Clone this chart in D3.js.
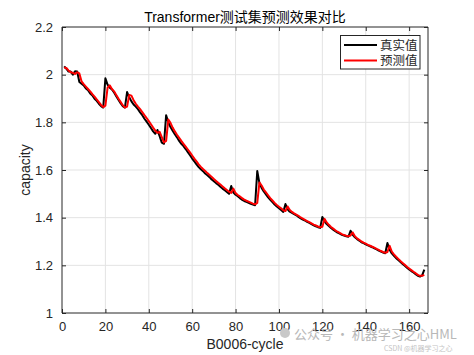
<!DOCTYPE html>
<html><head><meta charset="utf-8">
<script src="https://cdn.jsdelivr.net/npm/d3@7"></script>
<style>body{margin:0;background:#fff}svg{display:block}</style>
</head><body><svg id="c" width="474" height="355"></svg>
<script>
const xTicks = [0,20,40,60,80,100,120,140,160];
const yTicks = [1,1.2,1.4,1.6,1.8,2,2.2];
const actual = [2.035,2.025,2.013,2.013,2.000,2.014,2.013,1.969,1.962,1.955,1.942,1.935,1.921,1.913,1.899,1.890,1.878,1.868,1.862,1.985,
1.958,1.945,1.938,1.925,1.910,1.895,1.880,1.868,1.862,1.927,1.905,1.888,1.875,1.866,1.855,1.842,1.830,1.815,1.803,1.790,
1.776,1.762,1.752,1.768,1.742,1.715,1.710,1.830,1.800,1.780,1.765,1.750,1.737,1.722,1.710,1.700,1.688,1.675,1.662,1.648,
1.636,1.624,1.612,1.603,1.595,1.585,1.578,1.570,1.560,1.553,1.545,1.538,1.530,1.522,1.515,1.508,1.500,1.533,1.505,1.496,
1.490,1.482,1.475,1.470,1.466,1.462,1.458,1.455,1.452,1.596,1.545,1.525,1.510,1.498,1.485,1.475,1.465,1.455,1.447,1.440,
1.432,1.424,1.457,1.435,1.425,1.420,1.415,1.410,1.403,1.397,1.392,1.388,1.382,1.378,1.373,1.368,1.364,1.360,1.357,1.403,
1.385,1.373,1.365,1.357,1.350,1.343,1.337,1.333,1.328,1.325,1.322,1.320,1.345,1.328,1.318,1.310,1.304,1.297,1.293,1.288,
1.284,1.280,1.276,1.271,1.267,1.262,1.258,1.254,1.251,1.294,1.265,1.250,1.240,1.230,1.222,1.214,1.206,1.198,1.190,1.183,
1.176,1.170,1.163,1.156,1.153,1.158,1.182];
const predicted = [2.030,2.028,2.018,2.010,2.008,2.003,2.010,2.005,1.972,1.960,1.950,1.940,1.930,1.918,1.908,1.896,1.885,1.873,1.864,1.870,
1.945,1.955,1.940,1.930,1.915,1.900,1.886,1.872,1.862,1.866,1.915,1.912,1.893,1.878,1.866,1.855,1.843,1.830,1.818,1.805,
1.792,1.778,1.765,1.756,1.760,1.738,1.716,1.722,1.812,1.798,1.778,1.762,1.748,1.735,1.722,1.710,1.698,1.686,1.674,1.661,
1.648,1.636,1.624,1.613,1.604,1.596,1.587,1.579,1.571,1.562,1.554,1.546,1.539,1.531,1.523,1.516,1.509,1.504,1.522,1.503,
1.495,1.489,1.482,1.476,1.471,1.467,1.463,1.459,1.456,1.462,1.548,1.535,1.518,1.506,1.494,1.482,1.472,1.462,1.453,1.446,
1.439,1.431,1.428,1.447,1.432,1.424,1.418,1.413,1.408,1.401,1.396,1.391,1.386,1.381,1.376,1.371,1.367,1.363,1.360,1.362,
1.395,1.380,1.370,1.361,1.354,1.347,1.341,1.336,1.331,1.327,1.324,1.322,1.325,1.338,1.322,1.313,1.307,1.300,1.295,1.291,
1.286,1.282,1.278,1.274,1.269,1.265,1.260,1.256,1.253,1.256,1.282,1.258,1.246,1.236,1.227,1.218,1.210,1.202,1.194,1.187,
1.180,1.173,1.167,1.160,1.156,1.156,1.160];
const seriesNames = ["真实值","预测值"];
const colors = ["#000000","#ff0000"];

const svg = d3.select("#c");
const L=62, R=428, T=27, B=313;
const x = d3.scaleLinear().domain([0,168.7]).range([L,R]);
const y = d3.scaleLinear().domain([1,2.2]).range([B,T]);
const font = "'Liberation Sans', Arial, sans-serif";
const cjk = "'Liberation Sans','Noto Sans CJK SC', sans-serif";

// grid
const g = svg.append("g");
g.selectAll(".gx").data(xTicks.slice(1)).join("line")
 .attr("x1",d=>x(d)).attr("x2",d=>x(d)).attr("y1",T).attr("y2",B)
 .attr("stroke","#e3e3e3").attr("stroke-width",1);
g.selectAll(".gy").data(yTicks.slice(1,-1)).join("line")
 .attr("y1",d=>y(d)).attr("y2",d=>y(d)).attr("x1",L).attr("x2",R)
 .attr("stroke","#e3e3e3").attr("stroke-width",1);

// lines
const line = d3.line().x((d,i)=>x(i+1)).y(d=>y(d));
[actual,predicted].forEach((s,k)=>{
  svg.append("path").datum(s).attr("d",line).attr("fill","none")
   .attr("stroke",colors[k]).attr("stroke-width",2).attr("stroke-linejoin","round");
});

// axes (inward ticks, box)
const axB = d3.axisBottom(x).tickValues(xTicks).tickSize(-4).tickPadding(9).tickFormat(d3.format("d"));
const axT = d3.axisTop(x).tickValues(xTicks).tickSize(-4).tickFormat("");
const axL = d3.axisLeft(y).tickValues(yTicks).tickSize(-4).tickPadding(9).tickFormat(d=>String(d));
const axR = d3.axisRight(y).tickValues(yTicks).tickSize(-4).tickFormat("");
function style(sel){
  sel.selectAll("path").attr("stroke","#262626").attr("stroke-width",1);
  sel.selectAll("line").attr("stroke","#262626");
  sel.selectAll("text").attr("fill","#262626").style("font-family",font).style("font-size","13px");
}
svg.append("g").attr("transform",`translate(0,${B})`).call(axB).call(style).call(s=>s.select(".domain").attr("d",`M${L},0H${R}`));
svg.append("g").attr("transform",`translate(0,${T})`).call(axT).call(style).call(s=>s.select(".domain").attr("d",`M${L},0H${R}`));
svg.append("g").attr("transform",`translate(${L},0)`).call(axL).call(style).call(s=>s.select(".domain").attr("d",`M0,${T}V${B}`));
svg.append("g").attr("transform",`translate(${R},0)`).call(axR).call(style).call(s=>s.select(".domain").attr("d",`M0,${T}V${B}`));

// title and labels
svg.append("text").attr("x",245).attr("y",22).attr("text-anchor","middle")
 .style("font-family",cjk).style("font-size","14px").attr("fill","#000").text("Transformer测试集预测效果对比");
svg.append("text").attr("x",245).attr("y",349).attr("text-anchor","middle")
 .style("font-family",font).style("font-size","14px").attr("fill","#262626").text("B0006-cycle");
svg.append("text").attr("transform",`translate(30,${(T+B)/2}) rotate(-90)`).attr("text-anchor","middle")
 .style("font-family",font).style("font-size","14px").attr("fill","#262626").text("capacity");

// legend
const lg = svg.append("g");
lg.append("rect").attr("x",340.5).attr("y",35.5).attr("width",79.5).attr("height",33.5)
 .attr("fill","#fff").attr("stroke","#262626").attr("stroke-width",1);
seriesNames.forEach((n,i)=>{
  const yy = 45+i*15.5;
  lg.append("line").attr("x1",344).attr("x2",377).attr("y1",yy).attr("y2",yy).attr("stroke",colors[i]).attr("stroke-width",2);
  lg.append("text").attr("x",380).attr("y",yy+4.5).style("font-family","'Noto Sans CJK SC', sans-serif")
   .style("font-size","12.5px").attr("fill","#262626").text(n);
});

// watermark
svg.append("circle").attr("cx",285).attr("cy",333).attr("r",5).attr("fill","#c8c8c8");
svg.append("text").attr("x",294).attr("y",339).style("font-family","'Noto Sans CJK SC', sans-serif")
 .style("font-size","13px").attr("fill","#b8b8b8").text("公众号 · 机器学习之心HML");
svg.append("text").attr("x",384).attr("y",351).style("font-family","'Noto Sans CJK SC', sans-serif")
 .style("font-size","7px").attr("fill","#c4c4c4").text("CSDN @机器学习之心");
</script></body></html>
